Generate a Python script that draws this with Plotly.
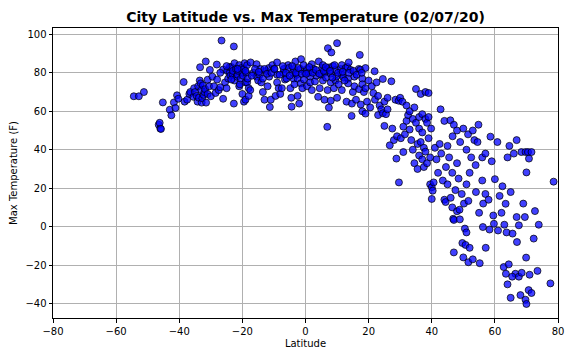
import plotly.graph_objects as go

# Latitude values (grouped by latitude band)
lat_far_south = [-54.4, -52.8, -51.2, -46.5, -46.0, -46.2, -45.8, -45.2, -43.0, -42.5, -41.7, -41.2, -40.7, -40.3]
temp_far_south = [67.8, 67.8, 70.0, 53.0, 51.0, 54.0, 50.8, 64.6, 60.8, 57.9, 64.6, 61.7, 68.3, 66.5]

lat_s40 = [-38.6, -38.3, -37.5, -36.8, -36.5, -35.5, -35.3, -35.0, -34.5, -34.2, -34.0, -33.8, -33.5, -33.4, -33.2,
           -33.0, -32.9, -32.7, -32.5, -32.3, -32.0, -31.8, -31.6, -31.5, -31.0, -31.0, -30.5, -30.3, -30.0]
temp_s40 = [75.2, 65.0, 66.0, 69.0, 70.0, 67.5, 72.0, 70.0, 68.0, 65.0, 73.0, 67.0, 76.0, 82.9, 74.5,
            71.0, 64.5, 66.8, 73.5, 68.5, 70.0, 71.5, 85.9, 64.5, 76.4, 69.0, 73.0, 81.5, 67.8]

lat_s30 = [-29.5, -29.0, -28.5, -28.1, -28.0, -27.5, -27.0, -26.6, -26.1, -26.1, -25.5, -25.0, -24.8, -24.5, -24.0,
           -24.0, -23.8, -23.5, -23.0, -23.0, -22.7, -22.7, -22.5, -22.5, -22.0, -21.8, -21.5, -21.3, -21.0, -21.0,
           -20.8, -20.5, -20.3, -20.0, -20.0]
temp_s30 = [78.0, 73.0, 69.5, 84.3, 76.5, 71.0, 72.5, 96.8, 81.7, 66.5, 75.0, 72.0, 81.0, 77.0, 80.0,
            83.0, 78.5, 83.0, 79.0, 81.0, 93.7, 64.0, 76.0, 85.0, 82.0, 78.0, 79.0, 81.0, 84.0, 73.0,
            74.0, 77.0, 82.5, 80.0, 69.0]

lat_s20 = [-19.8, -19.5, -19.5, -19.3, -19.0, -19.0, -18.8, -18.5, -18.5, -18.3, -18.0, -18.0, -17.5, -17.4, -16.5,
           -15.5, -15.5, -15.0, -14.5, -14.3, -14.0, -13.5, -13.5, -13.0, -12.5, -12.0, -11.6, -11.5, -11.3, -11.0,
           -10.5, -10.0]
temp_s20 = [78.5, 82.0, 65.0, 85.0, 75.0, 66.0, 80.0, 84.0, 75.0, 77.0, 72.0, 68.0, 71.0, 85.4, 80.0,
            84.5, 78.0, 76.0, 79.0, 82.0, 75.0, 77.0, 70.0, 66.0, 81.0, 73.0, 82.5, 78.0, 62.2, 66.0,
            84.0, 82.0]

lat_s10 = [-9.5, -9.0, -9.0, -9.0, -8.5, -8.0, -7.5, -7.0, -6.9, -6.5, -6.0, -5.5, -5.3, -4.8, -4.5,
           -4.4, -4.0, -3.8, -3.7, -3.5, -3.2, -2.8, -2.5, -2.5, -2.0, -1.6, -1.5, -1.4, -1.0, -0.5, -0.3]
temp_s10 = [68.0, 85.4, 79.0, 75.0, 72.0, 69.0, 72.0, 80.0, 82.0, 76.5, 77.0, 84.0, 82.5, 72.0, 67.0,
            62.4, 80.0, 77.0, 82.0, 74.0, 85.9, 79.0, 77.0, 68.0, 64.0, 82.0, 74.5, 87.1, 72.0, 76.5, 80.0]

lat_n0 = [0.5, 0.5, 1.0, 1.5, 1.5, 2.0, 2.0, 2.6, 3.0, 3.5, 4.0, 4.2, 4.5, 5.0, 5.3,
          5.5, 5.5, 6.0, 6.0, 6.5, 6.9, 6.9, 7.0, 7.1, 7.4, 7.5, 8.0, 8.0, 8.0, 8.2,
          8.7, 9.0, 9.5, 9.5, 9.8, 10.0, 10.0]
temp_n0 = [82.0, 73.0, 80.0, 78.0, 75.0, 71.0, 84.5, 82.0, 75.5, 78.5, 67.5, 85.9, 72.0, 79.0, 82.5,
           76.0, 84.0, 80.0, 66.0, 77.5, 82.0, 51.9, 71.0, 92.8, 61.9, 82.8, 79.5, 75.0, 65.5, 90.6,
           83.5, 72.0, 81.5, 76.0, 78.0, 95.4, 67.0]

lat_n10 = [10.5, 11.1, 11.5, 11.5, 11.5, 12.0, 12.7, 13.0, 13.3, 13.5, 13.5, 13.7, 14.3, 14.6, 14.7,
           15.0, 15.5, 15.5, 16.0, 16.9, 17.0, 17.2, 17.4, 17.5, 18.0, 18.0, 18.0, 18.5, 19.0, 19.0,
           19.0, 19.5]
temp_n10 = [74.0, 82.0, 84.0, 79.0, 71.0, 77.5, 82.5, 65.0, 83.0, 77.0, 74.5, 85.4, 81.5, 57.6, 64.0,
            70.0, 78.0, 73.0, 66.0, 82.0, 71.5, 89.3, 81.6, 63.5, 77.0, 74.0, 60.0, 70.0, 82.5, 72.0,
            58.8, 65.0]

# extra points in the dense tropical band
lat_tropics = [-27.0, -25.0, -23.5, -21.5, -19.0, -17.0, -16.0, -14.8, -13.0, -12.2, -10.8, -9.8, -8.2, -7.2,
               -6.2, -5.0, -4.2, -3.0, -2.2, -1.2, -0.6, 0.2, 1.2, 2.3, 3.3, 4.4, 5.8, 6.4, 7.8, 8.5,
               9.2, 10.3, 11.8, 12.4, 13.8, 15.2, 16.2, 17.8]
temp_tropics = [80.0, 83.5, 76.5, 82.0, 81.0, 78.5, 82.0, 80.5, 82.0, 79.5, 80.0, 82.0, 79.0, 83.5,
                80.0, 78.5, 83.5, 80.0, 82.5, 79.5, 84.0, 79.5, 83.0, 80.0, 81.5, 79.5, 81.0, 83.0, 81.0, 77.5,
                84.0, 80.0, 80.5, 76.0, 80.0, 81.0, 79.0, 80.0]

lat_n20 = [20.0, 20.5, 21.0, 21.5, 21.9, 22.0, 22.5, 23.0, 23.0, 23.5, 24.0, 24.5, 24.5, 25.0, 25.0,
           25.5, 26.0, 26.0, 26.7, 27.2, 28.0, 28.5, 28.8, 29.0, 29.5, 29.6, 30.0, 30.2, 30.7, 27.5]
temp_n20 = [76.0, 62.0, 73.0, 69.5, 80.8, 66.0, 75.0, 68.0, 58.0, 63.0, 61.0, 76.8, 59.0, 52.4, 65.0,
            58.5, 67.0, 61.0, 42.3, 75.6, 45.0, 66.0, 35.4, 47.0, 65.5, 23.0, 67.0, 46.0, 65.0, 51.0]

lat_n30 = [31.0, 31.0, 31.5, 32.0, 32.0, 32.5, 33.0, 33.0, 33.5, 34.0, 34.0, 34.5, 34.5, 35.0, 35.0,
           35.5, 35.5, 36.0, 36.0, 36.0, 36.5, 36.5, 37.0, 37.0, 37.0, 37.5, 37.5, 38.0, 38.0, 38.0,
           38.5, 38.5, 39.0, 39.0, 39.0, 39.5, 39.5, 39.8]
temp_n30 = [38.8, 52.0, 48.0, 63.0, 55.0, 58.0, 60.0, 50.5, 45.0, 56.0, 40.0, 62.0, 33.0, 71.6, 54.0,
            43.0, 30.0, 57.0, 51.0, 37.0, 69.0, 44.0, 58.5, 35.0, 49.0, 41.0, 31.0, 70.0, 56.0, 39.0,
            54.0, 33.0, 69.5, 46.0, 57.0, 22.0, 36.0, 51.0]

lat_n40 = [40.0, 40.0, 40.3, 40.6, 41.0, 41.5, 42.0, 42.5, 42.8, 43.0, 43.5, 44.0, 44.0, 44.4, 44.5,
           45.0, 45.0, 45.5, 45.9, 46.0, 46.5, 46.5, 46.6, 46.8, 47.0, 47.0, 47.0, 47.5, 48.0, 48.0,
           48.0, 48.5, 48.8, 48.9, 49.0, 49.5, 49.7]
temp_n40 = [14.4, 20.5, 18.7, 23.0, 41.0, 35.0, 28.0, 43.0, 61.0, 38.0, 24.0, 14.0, 55.0, 12.8, 31.0,
            22.0, 42.0, 36.0, 55.3, 15.0, 10.0, 28.0, 47.0, 4.1, -13.4, 3.5, 53.0, 19.0, 8.0, 33.0,
            50.0, 25.0, 8.8, 3.8, 44.0, 17.0, -8.5]

lat_n50 = [50.0, 50.0, 50.2, 50.5, 50.7, 51.0, 51.0, 51.0, 51.5, 51.6, 51.6, 52.0, 52.0, 52.5, 53.0,
           53.0, 53.5, 53.9, 54.0, 54.5, 54.8, 55.0, 55.2, 56.0, 56.0, 56.2, 56.3, 57.0, 57.0, 57.1,
           58.0, 58.3, 58.6, 59.0, 59.5, 59.7, 60.0]
temp_n50 = [-16.0, 51.0, 12.0, -1.0, -9.5, 40.0, 22.0, -3.0, 48.0, 13.4, -18.5, -11.0, 28.0, 36.0, 50.0,
            -17.0, 45.0, 32.0, 18.0, 44.0, 53.0, 7.2, -19.0, 24.0, 36.0, -0.2, 12.0, 17.0, 38.0, -11.0,
            14.0, -1.5, 46.8, 34.0, 5.8, 1.5, 24.7]

lat_n60 = [60.8, 61.0, 61.5, 62.1, 62.4, 62.8, 63.0, 63.4, 63.7, 64.0, 64.0, 64.4, 64.6, 65.0, 65.0,
           65.6, 66.0, 66.5, 66.9, 66.9, 67.0, 67.6, 67.6, 68.1, 68.4, 68.5, 69.0, 69.5, 69.7, 69.7,
           69.9, 70.0, 70.0, 70.5, 70.7, 70.8, 71.0, 71.6, 71.6, 72.3, 72.7, 73.5, 73.9, 77.6, 78.6,
           63.5, 65.5]
temp_n60 = [44.0, -2.0, 16.0, 7.2, 21.0, -21.0, 1.0, 11.9, -3.0, -30.0, 36.0, -19.6, 42.0, -37.0, 18.0,
            -3.6, 38.0, -24.5, 5.0, 45.0, -8.0, 0.7, -26.0, -35.6, 38.8, -24.0, 12.0, 5.0, -38.0, 38.8,
            -16.1, 28.2, -40.2, 38.8, -33.0, 35.4, -25.0, 38.8, -34.5, -6.2, 8.1, -23.0, 1.0, -29.5, 23.4,
            -24.5, -26.0]

latitude = (lat_far_south + lat_s40 + lat_s30 + lat_s20 + lat_s10 + lat_n0 + lat_n10 + lat_tropics +
            lat_n20 + lat_n30 + lat_n40 + lat_n50 + lat_n60)
max_temp = (temp_far_south + temp_s40 + temp_s30 + temp_s20 + temp_s10 + temp_n0 + temp_n10 + temp_tropics +
            temp_n20 + temp_n30 + temp_n40 + temp_n50 + temp_n60)

x_ticks = [-80, -60, -40, -20, 0, 20, 40, 60, 80]
y_ticks = [-40, -20, 0, 20, 40, 60, 80, 100]

FONT = "DejaVu Sans"

fig = go.Figure()
fig.add_trace(go.Scatter(
    x=latitude, y=max_temp, mode="markers",
    marker=dict(size=7, color="rgba(0,0,255,0.75)",
                line=dict(color="rgba(0,0,0,0.8)", width=0.9)),
    showlegend=False, hoverinfo="x+y",
))

axis_common = dict(
    showgrid=True, gridcolor="#b0b0b0", gridwidth=0.8, zeroline=False,
    showline=True, linecolor="black", linewidth=1, mirror=True,
    ticks="outside", ticklen=3.5, tickwidth=0.8, tickcolor="black",
    tickfont=dict(family=FONT, size=10, color="black"),
)

fig.update_layout(
    width=576, height=360,
    margin=dict(l=53, r=18, t=28, b=40),
    paper_bgcolor="white", plot_bgcolor="white",
    font=dict(family=FONT, color="black"),
    title=dict(text="<b>City Latitude vs. Max Temperature (02/07/20)</b>",
               x=(53 + 558) / 2 / 576, xanchor="center", y=1 - 17 / 360, yanchor="middle",
               font=dict(family=FONT, size=14, color="black")),
    xaxis=dict(range=[-80, 80], tickvals=x_ticks,
               title=dict(text="Latitude", font=dict(family=FONT, size=10), standoff=4),
               **axis_common),
    yaxis=dict(range=[-47.5, 103.3], tickvals=y_ticks,
               title=dict(text="Max Temperature (F)", font=dict(family=FONT, size=10), standoff=5),
               **axis_common),
)

fig.write_html("out.html", config={"displayModeBar": False},
               post_script="document.body.style.margin='0';")
